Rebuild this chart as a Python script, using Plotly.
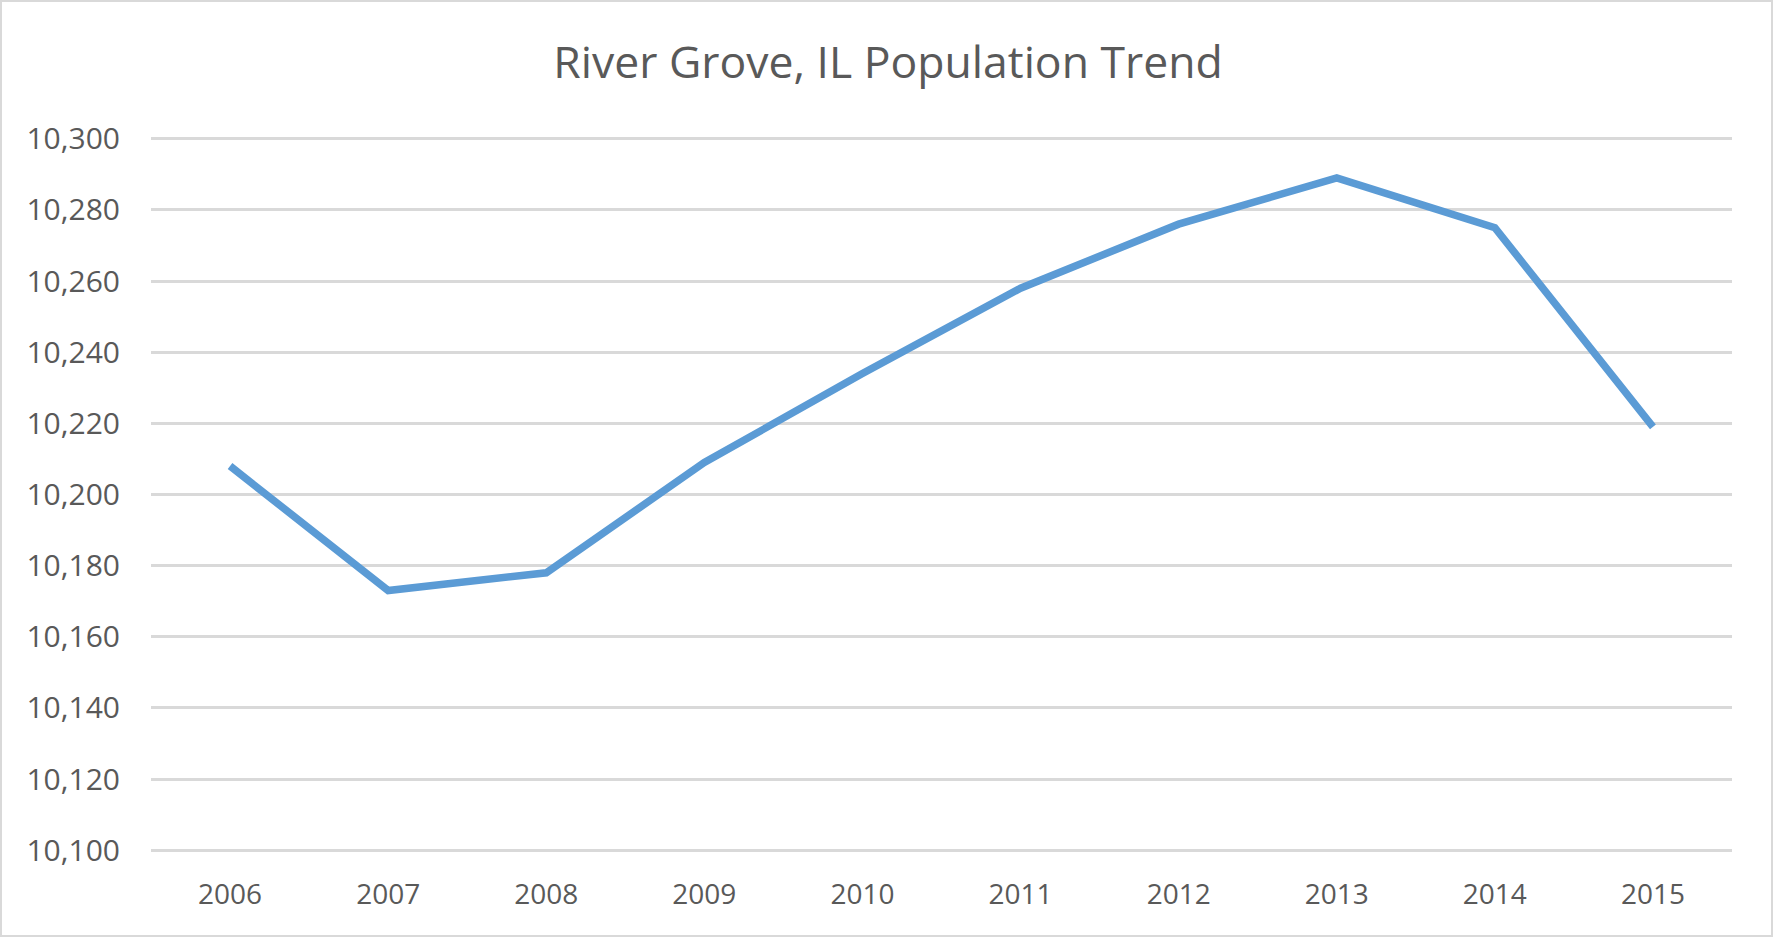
import plotly.graph_objects as go

years = ["2006", "2007", "2008", "2009", "2010", "2011", "2012", "2013", "2014", "2015"]
population = [10208, 10173, 10178, 10209, 10234, 10258, 10276, 10289, 10275, 10219]
y_ticks = [10100, 10120, 10140, 10160, 10180, 10200, 10220, 10240, 10260, 10280, 10300]
title_text = "River Grove, IL Population Trend"

W, H = 1773, 937
ml, mr, mt, mb = 151, 41, 137, 85
pw = W - ml - mr
ph = H - mt - mb

TXT = "#595959"
GRID = "#D9D9D9"
FONT = "Open Sans, Liberation Sans, sans-serif"

fig = go.Figure()
fig.add_trace(go.Scatter(
    x=years, y=population, mode="lines",
    line=dict(color="#5B9BD5", width=7.5),
    hoverinfo="x+y", showlegend=False,
))

fig.update_layout(
    width=W, height=H,
    margin=dict(l=ml, r=mr, t=mt, b=mb, pad=0),
    paper_bgcolor="white", plot_bgcolor="white",
    title=dict(text=title_text, x=888 / W, xanchor="center",
               y=1 - 62 / H, yanchor="middle", yref="container", xref="container",
               font=dict(family=FONT, size=44.5, color=TXT)),
    font=dict(family=FONT, color=TXT),
)
fig.update_xaxes(
    type="category", range=[-0.5, 9.5], showgrid=False, zeroline=False,
    showline=False, ticks="", tickfont=dict(size=28, color=TXT),
    ticklabelstandoff=23, fixedrange=True,
)
fig.update_yaxes(
    range=[10099.5, 10300.5], tickvals=y_ticks, tickformat=",d",
    showgrid=True, gridcolor=GRID, gridwidth=2.5, zeroline=False,
    showline=False, ticks="", tickfont=dict(size=30, color=TXT),
    ticklabelstandoff=30, fixedrange=True,
)
# outer chart border
fig.add_shape(type="rect", xref="paper", yref="paper",
              x0=(-ml + 1) / pw, x1=(W - ml - 1) / pw,
              y0=(-mb + 1) / ph, y1=(H - mb - 1) / ph,
              line=dict(color=GRID, width=2), fillcolor="rgba(0,0,0,0)", layer="below")

fig.write_html(
    "out.html",
    config={"displayModeBar": False},
    post_script="document.body.style.margin='0';document.body.style.overflow='hidden';",
)
